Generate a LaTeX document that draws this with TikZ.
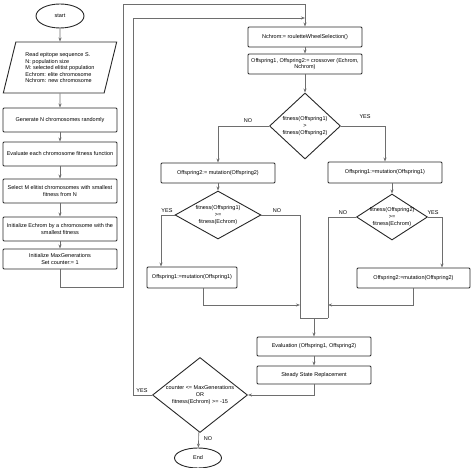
\documentclass[tikz,border=0pt]{standalone}
\usepackage{fontspec}
\setmainfont{Liberation Sans}
\usepackage{tikz}
\usetikzlibrary{positioning, shapes.geometric, arrows.meta, calc}
\definecolor{boxline}{RGB}{40,40,40}
\definecolor{wire}{RGB}{110,110,110}

\begin{document}
\begin{tikzpicture}[x=1pt, y=-1pt,
  font=\fontsize{5.5}{6.6}\selectfont,
  box/.style={rectangle, rounded corners=1pt, draw=boxline, line width=0.9pt,
              fill=white, minimum width=114pt, minimum height=20pt,
              inner sep=1pt, align=center},
  term/.style={ellipse, draw=boxline, line width=0.9pt, fill=white,
               minimum width=48pt, minimum height=24pt, inner sep=0pt},
  dec/.style={diamond, draw=boxline, line width=0.9pt, fill=white,
              inner sep=0pt, align=center},
  io/.style={trapezium, trapezium left angle=73, trapezium right angle=107,
             trapezium stretches=true, draw=boxline, line width=0.9pt,
             fill=white, minimum width=114pt, minimum height=51pt,
             inner sep=1pt, align=left},
  lbl/.style={inner sep=0pt},
  line/.style={draw=wire, line width=0.6pt},
  arr/.style={line, -{Stealth[length=4pt, width=3pt]}}
]
  \useasboundingbox (0,0) rectangle (474,468);

  \node[term] (start) at (60,16)   {start};
  \node[io]   (input) at (60,67.5) {\\[-2pt]Read epitope sequence S.\\N: population size\\M: selected elitist population\\Echrom: elite chromosome\\Nchrom: new chromosome};
  \node[box, minimum height=24pt] (gen)   at (60,120) {Generate N chromosomes randomly};
  \node[box, minimum height=24pt] (fit)   at (60,154) {Evaluate each chromosome fitness function};
  \node[box, minimum height=24pt] (sel)   at (60,191) {Select M elitist chromosomes with smallest\\fitness from N};
  \node[box, minimum height=24pt] (initE) at (60,229) {Initialize Echrom by a chromosome with the\\smallest fitness};
  \node[box]  (maxg)  at (60,259)  {Initialize MaxGenerations\\Set counter:= 1};

  \node[box]  (nchrom) at (305,37)  {Nchrom:= rouletteWheelSelection()};
  \node[box]  (cross)  at (305,64)  {Offspring1, Offspring2:= crossover (Echrom,\\Nchrom)};
  \node[dec, aspect=1.07, minimum width=71pt, minimum height=66pt] (cmp) at (305,126) {fitness(Offspring1)\\>\\fitness(Offspring2)};

  \node[box]  (mutA) at (218,173)   {Offspring2:= mutation(Offspring2)};
  \node[box, minimum height=21pt] (mutB) at (385,172.5) {Offspring1:=mutation(Offspring1)};
  \node[dec, aspect=1.8, minimum width=86pt, minimum height=48pt] (chkA) at (218,215) {fitness(Offspring1)\\>=\\fitness(Echrom)};
  \node[dec, aspect=1.55, inner sep=-2pt, minimum width=71pt, minimum height=46pt] (chkB) at (392,217) {fitness(Offspring2)\\>=\\fitness(Echrom)};
  \node[box, minimum width=90pt, minimum height=21pt] (mutC) at (192,277.5) {Offspring1:=mutation(Offspring1)};
  \node[box, minimum width=113pt] (mutD) at (413.5,278) {Offspring2:=mutation(Offspring2)};

  \node[box, minimum height=19pt] (eval)   at (314,346.5) {Evaluation (Offspring1, Offspring2)};
  \node[box, minimum height=18pt] (steady) at (314,375)   {Steady State Replacement};
  \node[dec, aspect=1.27, minimum width=95pt, minimum height=75pt] (stop) at (200,395) {counter <= MaxGenerations\\OR\\fitness(Echrom) >= -15};
  \node[term, minimum width=47pt, minimum height=20pt] (end) at (198,458) {End};

  \node[lbl] (noA)  at (248,121) {NO};
  \node[lbl] (yesA) at (365,117) {YES};
  \node[lbl] (yesB) at (167,211) {YES};
  \node[lbl] (noB)  at (277,211) {NO};
  \node[lbl] (noC)  at (343,213) {NO};
  \node[lbl] (yesC) at (433,213) {YES};
  \node[lbl] (yesD) at (142,391) {YES};
  \node[lbl] (noD)  at (208,439) {NO};

  \coordinate (loopA) at (123,287);
  \coordinate (loopB) at (123,4);
  \coordinate (loopC) at (133,18);
  \coordinate (mrgA)  at (300,305);
  \coordinate (mrgB)  at (328,305);
  \coordinate (mrgL)  at (300,318);
  \coordinate (mrgR)  at (328,318);
  \coordinate (mrgM)  at (314,318);

  \draw[arr] (start) -- (input);
  \draw[arr] (input) -- (gen);
  \draw[arr] (gen) -- (fit);
  \draw[arr] (fit) -- (sel);
  \draw[arr] (sel) -- (initE);
  \draw[arr] (initE) -- (maxg);
  \draw[arr] (maxg.south) |- (loopA) -- (loopB) -| (nchrom.north);
  \draw[arr] (stop.west) -| (loopC) -- (nchrom.north |- loopC);
  \draw[arr] (nchrom) -- (cross);
  \draw[arr] (cross) -- (cmp);
  \draw[arr] (cmp.west) -| (mutA.north);
  \draw[arr] (cmp.east) -| (mutB.north);
  \draw[arr] (mutA) -- (chkA);
  \draw[arr] (mutB.south -| chkB.north) -- (chkB.north);
  \draw[arr] (chkA.west) -| ([xshift=-31pt]mutC.north);
  \draw[arr] (chkB.east) -| ([xshift=28.5pt]mutD.north);
  \draw[line] (chkA.east) -| (mrgL);
  \draw[line] (chkB.west) -| (mrgR);
  \draw[arr] ([xshift=11pt]mutC.south) |- (mrgA);
  \draw[arr] (mutD.south) |- (mrgB);
  \draw[line] (mrgL) -- (mrgR);
  \draw[arr] (mrgM) -- (eval);
  \draw[arr] (eval) -- (steady);
  \draw[arr] (steady.south) |- (stop.east);
  \draw[arr] (stop) -- (end);
\end{tikzpicture}
\end{document}
